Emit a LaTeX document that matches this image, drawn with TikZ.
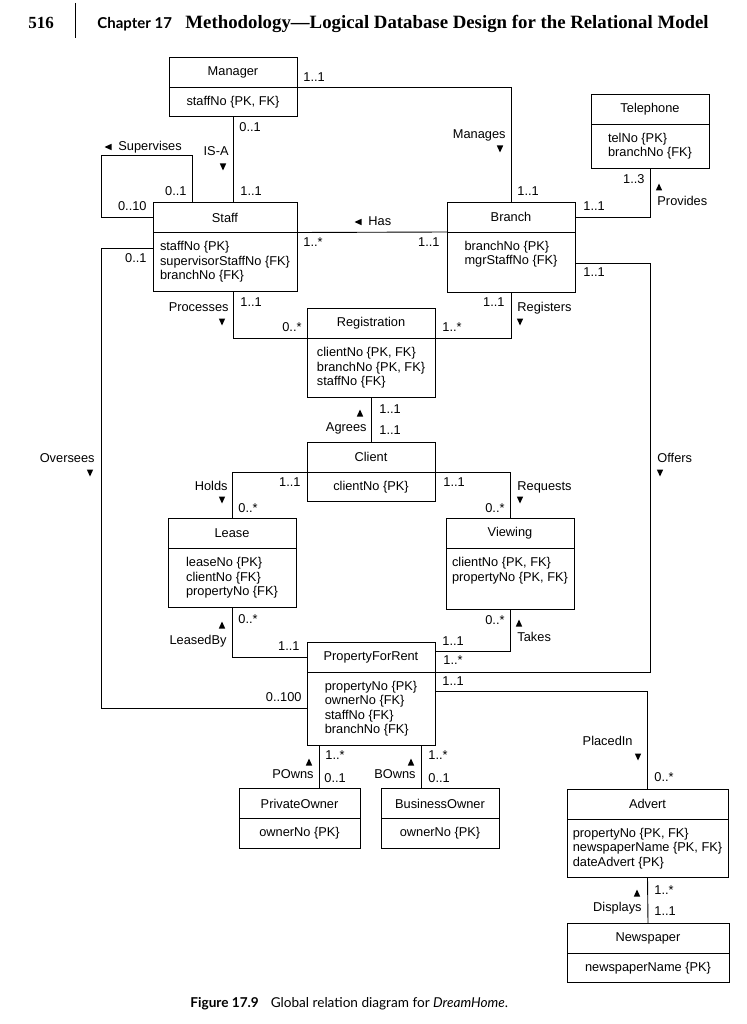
\documentclass[tikz,border=0pt]{standalone}
\usepackage{fontspec}
\setmainfont{Liberation Sans}
\newfontfamily\bookserif{Liberation Serif}
\newfontfamily\booksans{Lato}
\usetikzlibrary{positioning}

\tikzset{
  relation/.style={draw, minimum height=30pt, inner sep=0pt, outer sep=0pt},
  attributes/.style={draw, align=left, inner xsep=0pt, inner ysep=9pt, outer sep=0pt},
  mult/.style={inner sep=0pt, text height=9.2pt, text depth=2.7pt},
  tridown/.pic={\fill (-3.2,-3.5) -- (3.2,-3.5) -- (0,3.5) -- cycle;},
  triup/.pic={\fill (-3.2,3.5) -- (3.2,3.5) -- (0,-3.5) -- cycle;},
  trileft/.pic={\fill (3.5,-3.2) -- (3.5,3.2) -- (-3.5,0) -- cycle;},
}

\begin{document}
\begin{tikzpicture}[x=1pt, y=-1pt, line width=0.9pt, font=\fontsize{12.8}{14.5}\selectfont]
\useasboundingbox[fill=white] (0,0) rectangle (746,1024);
% Running head of the page
\node[anchor=base west, inner sep=0pt, font=\bookserif\bfseries\fontsize{17}{20}\selectfont] (page) at (28,29) {516};
\draw[line width=0.7pt] (75,3) -- (75,38);
\node[anchor=base west, inner sep=0pt, font=\booksans\bfseries\fontsize{15}{18}\selectfont] (chapter) at (97,29) {Chapter 17};
\node[anchor=base west, inner sep=0pt, font=\bookserif\bfseries\fontsize{18.8}{22}\selectfont] (title) at (185,29) {Methodology\textemdash Logical Database Design for the Relational Model};
% Relations: name on top, attributes below
\node[relation, minimum width=128pt] (manager) at (233,72) {Manager};
\node[attributes, minimum width=128pt, below=0pt of manager] (managerA) {staffNo \{PK, FK\}};
\node[relation, minimum width=118pt] (telephone) at (650,109) {Telephone};
\node[attributes, minimum width=118pt, below=0pt of telephone] (telephoneA) {telNo \{PK\}\\branchNo \{FK\}};
\node[relation, minimum width=144pt] (staff) at (225,217.5) {Staff};
\node[attributes, minimum width=144pt, below=0pt of staff] (staffA) {staffNo \{PK\}\\supervisorStaffNo \{FK\}\\branchNo \{FK\}};
\node[relation, minimum width=128pt] (branch) at (511,217) {Branch};
\node[attributes, minimum width=128pt, below=0pt of branch] (branchA) {branchNo \{PK\}\\mgrStaffNo \{FK\}\\\strut};
\node[relation, minimum width=128pt] (registration) at (371,323.5) {Registration};
\node[attributes, minimum width=128pt, below=0pt of registration] (registrationA) {clientNo \{PK, FK\}\\branchNo \{PK, FK\}\\staffNo \{FK\}};
\node[relation, minimum width=128pt] (client) at (371,457) {Client};
\node[attributes, minimum width=128pt, below=0pt of client] (clientA) {clientNo \{PK\}};
\node[relation, minimum width=128pt] (lease) at (232,533.5) {Lease};
\node[attributes, minimum width=128pt, below=0pt of lease] (leaseA) {leaseNo \{PK\}\\clientNo \{FK\}\\propertyNo \{FK\}};
\node[relation, minimum width=128pt] (viewing) at (510,533.5) {Viewing};
\node[attributes, minimum width=128pt, below=0pt of viewing] (viewingA) {clientNo \{PK, FK\}\\propertyNo \{PK, FK\}\\\strut};
\node[relation, minimum width=128pt] (property) at (371,657) {PropertyForRent};
\node[attributes, minimum width=128pt, below=0pt of property] (propertyA) {propertyNo \{PK\}\\ownerNo \{FK\}\\staffNo \{FK\}\\branchNo \{FK\}};
\node[relation, minimum width=121pt] (privateowner) at (299.5,803.5) {PrivateOwner};
\node[attributes, minimum width=121pt, below=0pt of privateowner] (privateownerA) {ownerNo \{PK\}};
\node[relation, minimum width=118pt] (businessowner) at (440,803.5) {BusinessOwner};
\node[attributes, minimum width=118pt, below=0pt of businessowner] (businessownerA) {ownerNo \{PK\}};
\node[relation, minimum width=161pt] (advert) at (647.5,804) {Advert};
\node[attributes, minimum width=161pt, below=0pt of advert] (advertA) {propertyNo \{PK, FK\}\\newspaperName \{PK, FK\}\\dateAdvert \{PK\}};
\node[relation, minimum width=162pt] (newspaper) at (648,938) {Newspaper};
\node[attributes, minimum width=162pt, below=0pt of newspaper] (newspaperA) {newspaperName \{PK\}};
% Manages, IS-A and the Supervises loop
\draw (manager.south east) -| (branch.north);
\draw (managerA.south) -- (managerA.south |- staff.north);
\coordinate (loop) at (101,155);
\draw ([xshift=-33pt]staff.north) |- (loop) |- (staff.west);
% Has, Provides, Oversees, Offers
\draw (staff.south east) -- (branch.south west);
\draw (branch.east) -| (telephoneA.south);
\draw ([yshift=-16pt]staffA.north west) -| (loop |- propertyA.west) -- (propertyA.west);
\draw ([yshift=-31pt]branchA.north east) -| (telephoneA.south |- property.south east) -- (property.south east);
% Processes, Registers, Agrees
\draw (managerA.south |- staffA.south) |- (registration.south west);
\draw (branchA.south) |- (registration.south east);
\draw (registrationA.south) -- (client.north);
% Holds, Requests, LeasedBy, Takes
\draw (client.south west) -| (lease.north);
\draw (client.south east) -| (viewing.north);
\draw (leaseA.south) |- (property.west);
\draw (viewingA.south) |- ([yshift=6pt]property.east);
% PlacedIn, POwns, BOwns, Displays
\draw ([yshift=-19pt]propertyA.north east) -| (advert.north);
\coordinate (pown) at ([xshift=-52pt]propertyA.south);
\coordinate (bown) at ([xshift=50pt]propertyA.south);
\draw (pown) -- (pown |- privateowner.north);
\draw (bown) -- (bown |- businessowner.north);
\draw (advertA.south) -- (newspaper.north);
% Labels of Manages, IS-A and Supervises
\node[mult, anchor=west] (manages1) at (303,78) {1..1};
\node[mult, anchor=east] (managesL) at (506,135) {Manages};
\pic at (500,149) {tridown};
\node[mult, anchor=west] (manages2) at (517,192) {1..1};
\node[mult, anchor=west] (isa1) at (239,128) {0..1};
\node[mult, anchor=east] (isaL) at (229,152) {IS-A};
\pic at (223,167) {tridown};
\node[mult, anchor=west] (isa2) at (240,192) {1..1};
\pic at (108,147) {trileft};
\node[mult, anchor=west] (supervisesL) at (118,147) {Supervises};
\node[mult, anchor=east] (supervises1) at (187,192) {0..1};
\node[mult, anchor=east] (supervises2) at (147,207) {0..10};
% Labels of Has, Provides, Oversees, Offers
\pic at (358,222) {trileft};
\node[mult, anchor=west] (hasL) at (368,222) {Has};
\node[mult, anchor=west] (has1) at (303,243) {1..*};
\node[mult, anchor=east] (has2) at (440,243) {1..1};
\node[mult, anchor=east] (provides1) at (645,180) {1..3};
\pic at (659,187) {triup};
\node[mult, anchor=west] (providesL) at (657,202) {Provides};
\node[mult, anchor=west] (provides2) at (583,207) {1..1};
\node[mult, anchor=east] (oversees1) at (147,259) {0..1};
\node[mult, anchor=east] (overseesL) at (95,459) {Oversees};
\pic at (90,473) {tridown};
\node[mult, anchor=east] (oversees2) at (302,698) {0..100};
\node[mult, anchor=west] (offers1) at (583,273) {1..1};
\node[mult, anchor=west] (offersL) at (657,459) {Offers};
\pic at (660,473) {tridown};
\node[mult, anchor=west] (offers2) at (443,661) {1..*};
% Labels of Processes, Registers, Agrees
\node[mult, anchor=west] (processes1) at (240,303) {1..1};
\node[mult, anchor=east] (processesL) at (229,308) {Processes};
\pic at (222,322) {tridown};
\node[mult, anchor=east] (processes2) at (302,328) {0..*};
\node[mult, anchor=east] (registers1) at (505,303) {1..1};
\node[mult, anchor=west] (registersL) at (517,308) {Registers};
\pic at (520,322) {tridown};
\node[mult, anchor=west] (registers2) at (442,328) {1..*};
\pic at (360,413) {triup};
\node[mult, anchor=west] (agrees1) at (379,410) {1..1};
\node[mult, anchor=east] (agreesL) at (367,428) {Agrees};
\node[mult, anchor=west] (agrees2) at (379,431) {1..1};
% Labels of Holds, Requests, LeasedBy, Takes
\node[mult, anchor=east] (holds1) at (301,483) {1..1};
\node[mult, anchor=east] (holdsL) at (228,487) {Holds};
\pic at (222,500) {tridown};
\node[mult, anchor=west] (holds2) at (238,509) {0..*};
\node[mult, anchor=west] (requests1) at (443,483) {1..1};
\node[mult, anchor=west] (requestsL) at (517,487) {Requests};
\pic at (520,500) {tridown};
\node[mult, anchor=east] (requests2) at (505,509) {0..*};
\node[mult, anchor=west] (leasedby1) at (238,620) {0..*};
\pic at (222,625) {triup};
\node[mult, anchor=east] (leasedbyL) at (227,641) {LeasedBy};
\node[mult, anchor=east] (leasedby2) at (300,647) {1..1};
\node[mult, anchor=east] (takes1) at (505,621) {0..*};
\pic at (519,623) {triup};
\node[mult, anchor=west] (takesL) at (517,638) {Takes};
\node[mult, anchor=west] (takes2) at (442,642) {1..1};
% Labels of PlacedIn, POwns, BOwns, Displays
\node[mult, anchor=west] (placedin1) at (442,682) {1..1};
\node[mult, anchor=east] (placedinL) at (633,742) {PlacedIn};
\pic at (638,757) {tridown};
\node[mult, anchor=west] (placedin2) at (654,778) {0..*};
\pic at (309,762) {triup};
\node[mult, anchor=west] (powns1) at (325,756) {1..*};
\node[mult, anchor=east] (pownsL) at (314,775) {POwns};
\node[mult, anchor=west] (powns2) at (324,779) {0..1};
\pic at (411,762) {triup};
\node[mult, anchor=west] (bowns1) at (428,756) {1..*};
\node[mult, anchor=east] (bownsL) at (416,775) {BOwns};
\node[mult, anchor=west] (bowns2) at (428,779) {0..1};
\pic at (637,893) {triup};
\node[mult, anchor=west] (displays1) at (654,891) {1..*};
\node[mult, anchor=east] (displaysL) at (642,908) {Displays};
\node[mult, anchor=west] (displays2) at (654,912) {1..1};
% Caption
\node[anchor=base west, inner sep=0pt, font=\booksans\fontsize{13.6}{16}\selectfont] (caption) at (190,1007) {\textbf{Figure 17.9}\hspace{12pt}Global relation diagram for \textit{DreamHome}.};
\end{tikzpicture}
\end{document}
